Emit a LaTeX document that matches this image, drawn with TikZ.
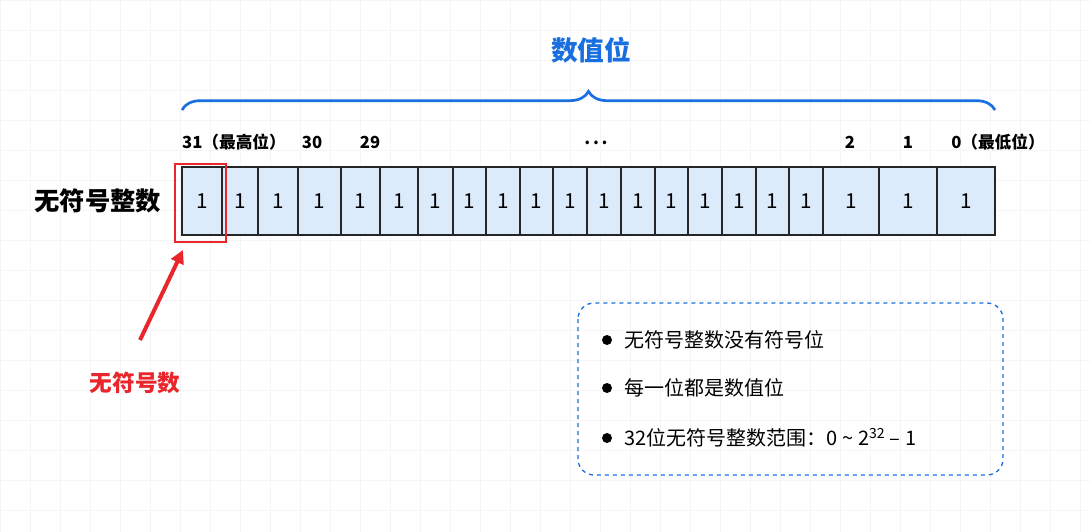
\documentclass[tikz,border=0pt]{standalone}
\usepackage{fontspec}
\setmainfont{Noto Sans CJK SC}
\usetikzlibrary{decorations.pathreplacing,arrows.meta,positioning}
\definecolor{cellblue}{HTML}{DCEBFB}
\definecolor{braceblue}{HTML}{1A6FE0}
\definecolor{markred}{HTML}{E8262B}
\tikzset{
  bitcell/.style={draw=black!85,fill=cellblue,line width=0.9pt,inner sep=0pt,font=\fontsize{15.5}{15.5}\selectfont},
  bitnum/.style={font=\fontsize{12.5}{12.5}\selectfont\bfseries,anchor=center},
  tip/.style={font=\fontsize{15}{15}\selectfont,anchor=west}
}
\begin{document}
\begin{tikzpicture}[x=0.75pt,y=-0.75pt]
    \useasboundingbox[fill=white] (0,0) rectangle (1090,532);
    % faint grid
    \foreach \g in {0,30,...,1080} \draw[black!4] (\g,0) -- (\g,532);
    \foreach \g in {0,30,...,530} \draw[black!4] (0,\g) -- (1090,\g);

    % bit cells
    \foreach \l/\r [count=\i] in {182/222,222/258,258/298,298/341,341/380,380/418,418/453,453/486,486/520,520/553,553/587,587/621,621/655,655/688,688/722,722/756,756/789,789/823,823/879,879/937,937/995}
        \node[bitcell,minimum width={(\r-\l)*0.75pt},minimum height={68*0.75pt}] (c\i) at ({(\l+\r)/2},201) {1};

    % bit positions
    \node[bitnum] (p31) at (234,142) {31（最高位）};
    \node[bitnum] (p30) at (312,142) {30};
    \node[bitnum] (p29) at (370,142) {29};
    \node[bitnum] (dots) at (596,143) {\textbf{.\,.\,.}};
    \node[bitnum] (p2) at (850,142) {2};
    \node[bitnum] (p1) at (908,142) {1};
    \node[bitnum] (p0) at (998,142) {0（最低位）};

    % brace and title
    \draw[braceblue,line width=2pt,decorate,decoration={brace,amplitude=14pt}]
        (182,110) -- (995,110);
    \node[text=braceblue,font=\fontsize{20}{20}\selectfont\bfseries] (title) at (591,50) {数值位};

    \node[font=\fontsize{19}{19}\selectfont\bfseries,anchor=east] (row) at (166,201) {无符号整数};

    % highlight of bit 31
    \draw[markred,line width=1.2pt] (175,164) rectangle (226,242);
    \coordinate (hl) at (183,250);
    \node[text=markred,font=\fontsize{17}{17}\selectfont\bfseries] (unsig) at (135,383) {无符号数};
    \draw[markred,line width=3pt,-{Triangle[length=10pt,width=10pt]}] (140,340) -- (hl);

    % notes box
    \draw[braceblue,dashed,line width=1pt,rounded corners=12pt] (578,303) rectangle (1003,475);
    \foreach \y/\t in {340/无符号整数没有符号位,388/每一位都是数值位,438/32位无符号整数范围：0 \textasciitilde{} 2\textsuperscript{32} – 1}{
        \fill (607,\y) circle (5);
        \node[tip] at (620,\y) {\t};
    }
\end{tikzpicture}
\end{document}
